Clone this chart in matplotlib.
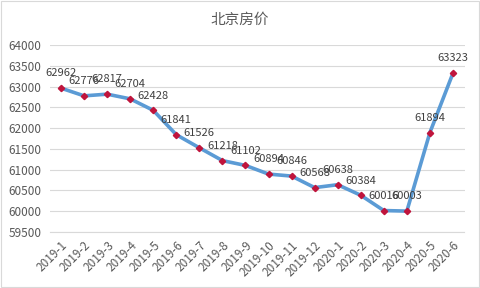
import matplotlib.pyplot as plt

plt.rcParams['font.family'] = ['Noto Sans CJK SC', 'DejaVu Sans']

# ------------------ Datos ------------------
meses = ['2019-1', '2019-2', '2019-3', '2019-4', '2019-5', '2019-6',
         '2019-7', '2019-8', '2019-9', '2019-10', '2019-11', '2019-12',
         '2020-1', '2020-2', '2020-3', '2020-4', '2020-5', '2020-6']
precios = [62962, 62776, 62817, 62704, 62428, 61841, 61526, 61218, 61102,
           60894, 60846, 60568, 60638, 60384, 60016, 60003, 61894, 63323]
yticks = [59500, 60000, 60500, 61000, 61500, 62000, 62500, 63000, 63500, 64000]

gris = '#595959'

fig = plt.figure(figsize=(4.8, 2.88), dpi=100)
ax = fig.add_axes([49.5 / 480, 1 - 232 / 288, 415 / 480, 187 / 288])

x = list(range(len(meses)))
ax.plot(x, precios, color='#5B9BD5', linewidth=2.6, zorder=2)
ax.plot(x, precios, linestyle='none', marker='D', markersize=3.2,
        color='#C0143C', zorder=3)

for xi, v in zip(x, precios):
    ax.annotate(str(v), (xi, v), textcoords='offset points', xytext=(0, 7),
                ha='center', va='bottom', fontsize=8, color='#404040')

ax.set_xlim(-0.5, len(meses) - 0.5)
ax.set_ylim(59500, 64000)
ax.set_yticks(yticks)
ax.set_xticks(x)
ax.set_xticklabels(meses, rotation=45, ha='right', rotation_mode='anchor')
ax.tick_params(axis='both', length=0, labelsize=8.5, colors=gris)
ax.tick_params(axis='x', pad=5)
ax.tick_params(axis='y', pad=6)
ax.grid(axis='y', color='#D9D9D9', linewidth=0.8)
ax.set_axisbelow(True)
for s in ['top', 'right', 'left']:
    ax.spines[s].set_visible(False)
ax.spines['bottom'].set_color('#D9D9D9')

fig.text(0.5, 1 - 20 / 288, '北京房价', ha='center', va='center',
         fontsize=10.5, color=gris)

# borde del gráfico
fig.patches.append(plt.Rectangle((0.002, 0.003), 0.996, 0.994, transform=fig.transFigure,
                                 fill=False, edgecolor='#D9D9D9', linewidth=0.8))

plt.savefig('out.png', dpi=100)
plt.close()
